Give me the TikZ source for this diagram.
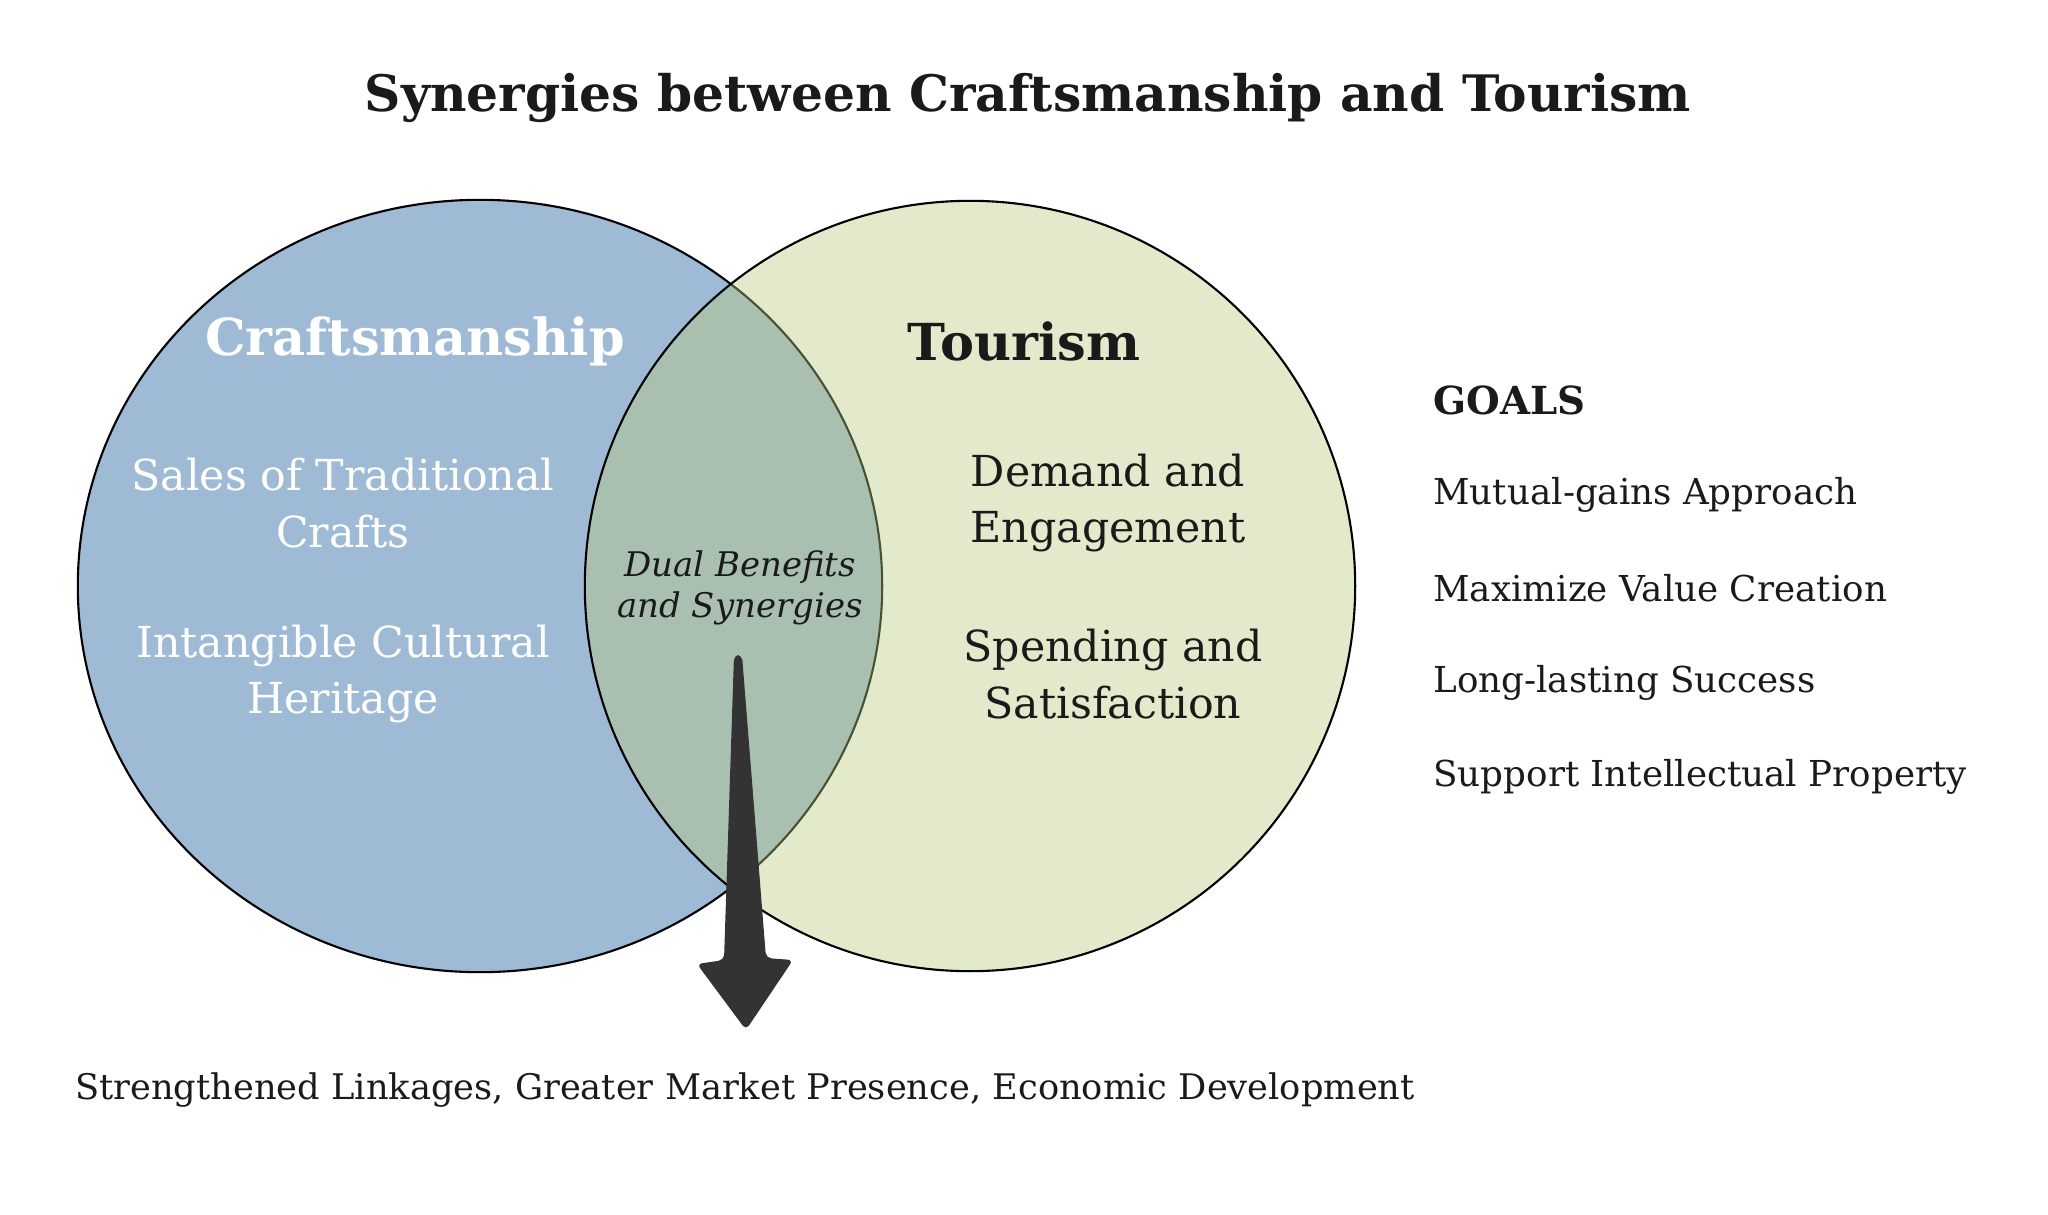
\documentclass[tikz,border=0pt]{standalone}
\usepackage{fontspec}
\setmainfont{DejaVu Serif}
\usetikzlibrary{shapes.geometric, positioning, calc}

\definecolor{craftblue}{RGB}{159,186,213}
\definecolor{tourgreen}{RGB}{185,202,125}
\definecolor{inkdark}{RGB}{26,26,26}
\definecolor{arrowgray}{RGB}{51,51,51}

\begin{document}
\begin{tikzpicture}[
        x=0.01cm, y=-0.01cm,
        setcircle/.style={ellipse, draw=black, line width=0.6pt, inner sep=0pt},
        headtext/.style={font=\fontsize{14.5}{18}\selectfont\bfseries},
        bodytext/.style={align=center, font=\fontsize{12.15}{16.2}\selectfont},
        goaltext/.style={anchor=west, text=inkdark, font=\fontsize{10.15}{13}\selectfont}
      ]
      \useasboundingbox (0,0) rectangle (2048,1215);
      \node[text=inkdark, font=\fontsize{14.3}{18}\selectfont\bfseries] (title) at (1028,98) {Synergies between Craftsmanship and Tourism};
      \node[setcircle, fill=craftblue, minimum width=804*0.2845pt, minimum height=772*0.2845pt] (craft) at (480,586) {};
      \node[setcircle, fill=tourgreen, fill opacity=0.4, minimum width=770*0.2845pt, minimum height=770*0.2845pt] (tour) at (970,586) {};
      \node[headtext, text=white] (crafthead) at (415,341) {Craftsmanship};
      \node[headtext, text=inkdark] (tourhead) at (1024,341) {Tourism};
      \node[bodytext, text=white] (sales) at (343,503) {Sales of Traditional\\Crafts};
      \node[bodytext, text=white] (heritage) at (343,674) {Intangible Cultural\\Heritage};
      \node[bodytext, text=inkdark] (demand) at (1108,503) {Demand and\\Engagement};
      \node[bodytext, text=inkdark] (spending) at (1113,674) {Spending and\\Satisfaction};
      \node[align=center, text=inkdark, font=\fontsize{9.65}{11.8}\selectfont\itshape] (dual) at (740,588) {Dual Benefits\\and Synergies};
      \node[goaltext, font=\fontsize{11}{13}\selectfont\bfseries] (goals) at (1421,400) {GOALS};
      \node[goaltext] (mutual) at (1421,495) {Mutual-gains Approach};
      \node[goaltext] (value) at (1421,588) {Maximize Value Creation};
      \node[goaltext] (lasting) at (1421,683) {Long-lasting Success};
      \node[goaltext] (property) at (1421,777) {Support Intellectual Property};
      \node[text=inkdark, font=\fontsize{10.02}{12}\selectfont] (result) at (745,1090) {Strengthened Linkages, Greater Market Presence, Economic Development};
      \coordinate (tail) at (738,655);
      \coordinate (tip) at (746,1030);
      \fill[arrowgray, rounded corners=1.5pt] ($(tail)+(-4,0)$) -- ($(tip)+(-22,-70)$) -- ($(tip)+(-49,-66)$)
        -- (tip) -- ($(tip)+(47,-70)$) -- ($(tip)+(20,-72)$) -- ($(tail)+(4,0)$) -- cycle;
      \end{tikzpicture}
\end{document}
